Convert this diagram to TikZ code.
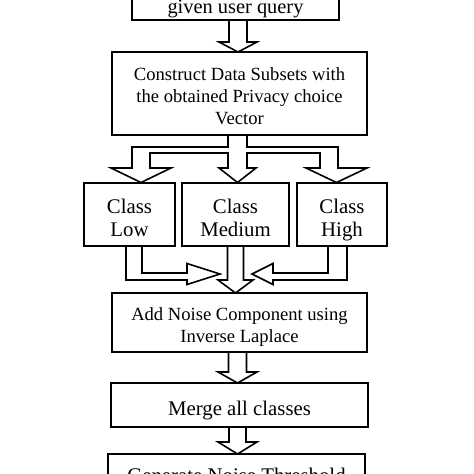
\documentclass[tikz,border=0pt]{standalone}
\usepackage{fontspec}
\setmainfont{Liberation Serif}
\usetikzlibrary{calc}
\pgfdeclarelayer{bg}
\pgfsetlayers{bg,main}
\tikzset{
  box/.style={draw, line width=1.6pt, inner sep=0pt, outer sep=0pt},
  blk/.style={draw, line width=1.6pt, fill=white, line join=miter},
  lbl/.style={anchor=base, inner sep=0pt, font=\fontsize{18.6}{22}\selectfont},
  lblb/.style={anchor=base, inner sep=0pt, font=\fontsize{20.8}{23}\selectfont},
}
% #1 from node, #2 to node, #3 x offset, #4 shaft half width, #5 head half width, #6 head length
\newcommand\vblock[6]{%
  \path ($(#1.south)+(#3,0)$) coordinate (vbS);
  \path (vbS |- #2.north) coordinate (vbT);
  \draw[blk] ($(vbS)+(-#4,0)$) -- ($(vbT)+(-#4,-#6)$) -- ($(vbT)+(-#5,-#6)$) -- (vbT)
     -- ($(vbT)+(#5,-#6)$) -- ($(vbT)+(#4,-#6)$) -- ($(vbS)+(#4,0)$);
}
\begin{document}
\begin{tikzpicture}[x=1pt,y=-1pt]
\begin{pgfonlayer}{bg}
  \fill[white] (0,0) rectangle (474,474);
\end{pgfonlayer}
\useasboundingbox (0,0) rectangle (474,474);
\begin{scope}
\clip (0,0) rectangle (474,474);
% boxes
\node[box, minimum width=207pt, minimum height=60pt] (top) at (235.5,-10) {};
\node[box, minimum width=255pt, minimum height=83pt] (b2) at (239.5,93.5) {};
\node[box, minimum width=91pt, minimum height=63pt] (low) at (129.5,214.5) {};
\node[box, minimum width=107pt, minimum height=63pt] (med) at (235.5,214.5) {};
\node[box, minimum width=90pt, minimum height=63pt] (high) at (342,214.5) {};
\node[box, minimum width=255pt, minimum height=59pt] (add) at (239.5,322.5) {};
\node[box, minimum width=257pt, minimum height=44pt] (merge) at (239.5,405) {};
\node[box, minimum width=257pt, minimum height=60pt] (gen) at (236.5,484) {};
% texts
\node[lblb, font=\fontsize{20.4}{23}\selectfont] (tq) at (235.5,13) {given user query};
\node[lbl] (c1) at (239.5,80) {Construct Data Subsets with};
\node[lbl] (c2) at (239.5,102) {the obtained Privacy choice};
\node[lbl] (c3) at (239.5,124) {Vector};
\node[lblb] (lowa) at (129.5,213) {Class};
\node[lblb] (lowb) at (129.5,236) {Low};
\node[lblb] (meda) at (235.5,213) {Class};
\node[lblb] (medb) at (235.5,236) {Medium};
\node[lblb] (higha) at (342,213) {Class};
\node[lblb] (highb) at (342,236) {High};
\node[lbl] (n1) at (239.5,320) {Add Noise Component using};
\node[lbl] (n2) at (239.5,342) {Inverse Laplace};
\node[lblb] (mg) at (239.5,415) {Merge all classes};
\node[lblb] (gn) at (236.5,482) {Generate Noise Threshold};
\end{scope}
% block arrows
\begin{pgfonlayer}{bg}
\vblock{top}{b2}{2.5}{9}{19}{10}
\vblock{add}{merge}{-2}{9}{19.5}{11}
\vblock{merge}{gen}{-2}{8.5}{19.5}{12}
\vblock{med}{add}{0}{8}{17.5}{13}
% split arrow from b2 to the three classes
\draw[blk] (228,135) -- (228,147) -- (132,147) -- (132,168) -- (111,168) -- (141,182.5)
  -- (171,168) -- (150,168) -- (150,153) -- (228,153) -- (228,168) -- (219,168)
  -- (237.5,182.5) -- (256,168) -- (247,168) -- (247,153) -- (320,153) -- (320,168)
  -- (306,168) -- (336.5,182.5) -- (367,168) -- (338,168) -- (338,147) -- (247,147)
  -- (247,135);
% low to add
\draw[blk] (126,246) -- (126,280) -- (187,280) -- (187,284.5) -- (220,274) -- (187,263.5)
  -- (187,273) -- (142,273) -- (142,246);
% high to add
\draw[blk] (347,246) -- (347,280) -- (273,280) -- (273,284.5) -- (252,274) -- (273,263.5)
  -- (273,273) -- (328,273) -- (328,246);
\end{pgfonlayer}
\end{tikzpicture}
\end{document}
